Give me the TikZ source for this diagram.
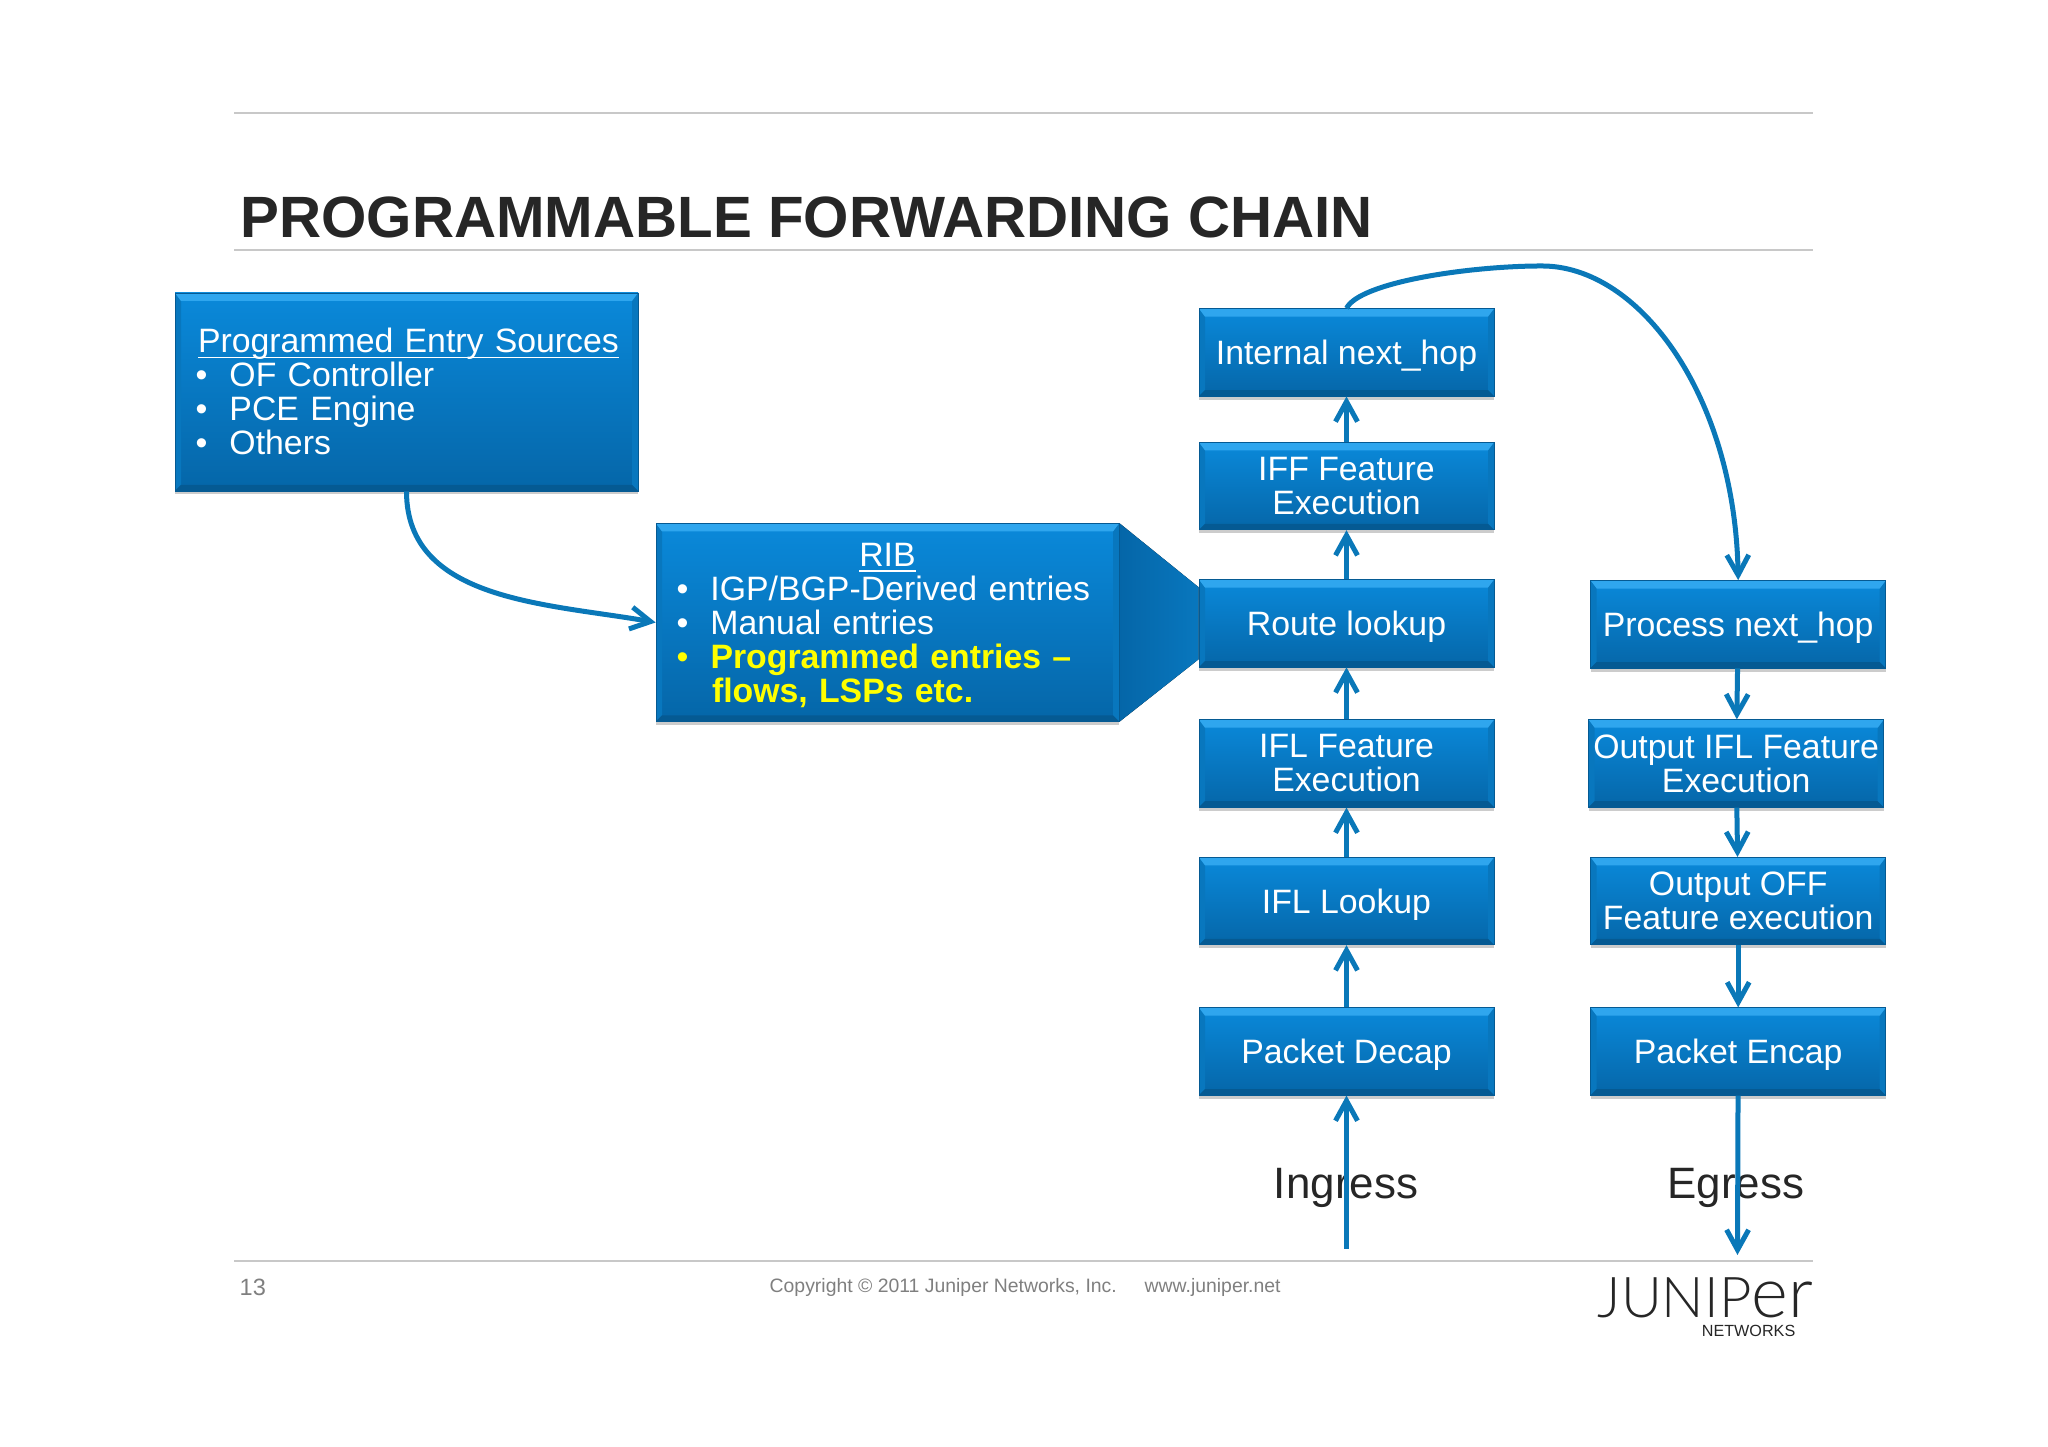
\documentclass[tikz,border=0pt]{standalone}
\usepackage{fontspec}
\setmainfont{Liberation Sans}
\newfontfamily\logofont{Lato Light}
\usetikzlibrary{positioning,arrows.meta,shadows,backgrounds}
\definecolor{boxtop}{HTML}{0A89DA}
\definecolor{boxbottom}{HTML}{0566A8}
\definecolor{bevellight}{HTML}{2FA6EE}
\definecolor{beveldark}{HTML}{055A93}
\definecolor{bevelside}{HTML}{0877BE}
\definecolor{wireblue}{HTML}{0A78B8}
\definecolor{inkdark}{HTML}{262626}
\definecolor{rulegrey}{HTML}{C8C8C8}
\definecolor{footgrey}{HTML}{7F7F7F}
\definecolor{hiyellow}{HTML}{FFFF00}
\newcommand{\bulletline}[1]{\makebox[0.315cm][l]{\hspace{-0.025cm}\textbullet}#1}
\tikzset{
  bevelbox/.style={top color=boxtop, bottom color=boxbottom, draw=beveldark, line width=0.2pt, text=white,
    font=\fontsize{9.62}{9.68}\selectfont, inner sep=0pt,
    drop shadow={shadow xshift=0cm, shadow yshift=-0.035cm, opacity=0.2, fill=black},
    path picture={
      \coordinate (nw) at (path picture bounding box.north west);
      \coordinate (ne) at (path picture bounding box.north east);
      \coordinate (sw) at (path picture bounding box.south west);
      \coordinate (se) at (path picture bounding box.south east);
      \fill[bevelside] (nw) -- ([xshift=0.06cm,yshift=-0.08cm]nw) -- ([xshift=0.06cm,yshift=0.06cm]sw) -- (sw) -- cycle;
      \fill[bevelside] (ne) -- ([xshift=-0.06cm,yshift=-0.08cm]ne) -- ([xshift=-0.06cm,yshift=0.06cm]se) -- (se) -- cycle;
      \fill[bevellight] (nw) -- (ne) -- ([xshift=-0.06cm,yshift=-0.08cm]ne) -- ([xshift=0.06cm,yshift=-0.08cm]nw) -- cycle;
      \fill[beveldark] (sw) -- (se) -- ([xshift=-0.06cm,yshift=0.06cm]se) -- ([xshift=0.06cm,yshift=0.06cm]sw) -- cycle;
    }},
  chainbox/.style={bevelbox, minimum width=2.95cm, minimum height=0.875cm, align=center},
  singlebox/.style={chainbox, text depth=0pt},
  listbox/.style={bevelbox, minimum width=4.63cm, minimum height=1.98cm, text width=4.17cm, align=left},
  wire/.style={wireblue, line width=0.05cm, -{Straight Barb[length=2mm,width=2.2mm]}},
  plainwire/.style={wireblue, line width=0.05cm},
  siderule/.style={rulegrey, line width=0.025cm},
  sidelabel/.style={text=inkdark, font=\fontsize{12.5}{12.5}\selectfont, inner sep=0pt},
  footnote/.style={text=footgrey, inner sep=0pt, anchor=base west}
}
\begin{document}
\begin{tikzpicture}
  \useasboundingbox (0,0) rectangle (20.48,14.47);
  % header and footer
  \coordinate (ruleA) at (2.34,13.34);
  \coordinate (ruleB) at (18.13,13.34);
  \coordinate (ruleC) at (2.34,11.97);
  \coordinate (ruleD) at (18.13,11.97);
  \coordinate (ruleE) at (2.34,1.86);
  \coordinate (ruleF) at (18.13,1.86);
  \draw[siderule] (ruleA) -- (ruleB);
  \draw[siderule] (ruleC) -- (ruleD);
  \draw[siderule] (ruleE) -- (ruleF);
  \node[anchor=base west, inner sep=0pt, text=inkdark, font=\fontsize{16.58}{16.58}\bfseries\selectfont] (title) at (2.40,12.09) {PROGRAMMABLE FORWARDING CHAIN};
  \node[footnote, font=\fontsize{6.7}{6.7}\selectfont] (pageno) at (2.39,1.515) {13};
  \node[footnote, font=\fontsize{5.52}{5.52}\selectfont] (copyright) at (7.69,1.545) {Copyright © 2011 Juniper Networks, Inc.};
  \node[footnote, font=\fontsize{5.52}{5.52}\selectfont] (website) at (11.44,1.545) {www.juniper.net};
  \node[anchor=base west, inner sep=0pt, text depth=0pt, text=inkdark, font=\logofont\fontsize{16}{16}\selectfont] (logo) at (15.97,1.29) {JUNIP{\fontsize{20}{20}\selectfont er}};
  \node[anchor=base east, inner sep=0pt, text=inkdark, font=\fontsize{4.6}{4.6}\selectfont] (logosub) at (17.96,1.105) {NETWORKS};
  % left column
  \node[singlebox] (decap) at (13.465,3.955) {Packet Decap};
  \node[singlebox, above=0.622cm of decap] (ifllookup) {IFL Lookup};
  \node[chainbox, above=0.494cm of ifllookup] (iflfeature) {IFL Feature\\Execution};
  \node[singlebox, above=0.52cm of iflfeature] (routelookup) {Route lookup};
  \node[chainbox, above=0.49cm of routelookup] (ifffeature) {IFF Feature\\Execution};
  \node[singlebox, above=0.455cm of ifffeature] (internalhop) {Internal next\_hop};
  % right column
  \node[singlebox, right=0.96cm of decap] (encap) {Packet Encap};
  \node[chainbox, above=0.622cm of encap] (outoff) {Output OFF\\Feature execution};
  \node[chainbox, above=0.494cm of outoff, xshift=-0.02cm] (outifl) {Output IFL Feature\\Execution};
  \node[singlebox, above=0.51cm of outifl, xshift=0.02cm] (processhop) {Process next\_hop};
  % lists
  \node[listbox] (sources) at (4.065,10.55) {\vphantom{P}\underline{\smash{Programmed Entry Sources}}\\
    \bulletline{OF Controller}\\\bulletline{PCE Engine}\\\bulletline{Others}};
  \node[listbox] (rib) at (8.875,8.245) {\makebox[\linewidth]{\underline{RIB}}\\
    \bulletline{IGP/BGP-Derived entries}\\\bulletline{Manual entries}\\
    \textcolor{hiyellow}{\bulletline{\bfseries Programmed entries --}}\\
    \textcolor{hiyellow}{\smash{\hspace{0.33cm}\bfseries flows, LSPs etc.}}};
  \begin{pgfonlayer}{background}
    \fill[left color=boxbottom, right color=bevelside] (rib.north east) -- ([yshift=0.36cm]routelookup.west) -- ([yshift=-0.36cm]routelookup.west) -- (rib.south east) -- cycle;
  \end{pgfonlayer}
  % io labels
  \node[sidelabel] (ingress) at (13.46,2.59) {Ingress};
  \node[sidelabel] (egress) at (17.36,2.59) {Egress};
  \coordinate (ingressend) at (13.465,1.98);
  \coordinate (egressend) at (17.375,1.92);
  \coordinate (hopbend) at (15.42,11.81);
  % connectors
  \draw[wire] (ingressend) -- (decap);
  \draw[wire] (decap) -- (ifllookup);
  \draw[wire] (ifllookup) -- (iflfeature);
  \draw[wire] (iflfeature) -- (routelookup);
  \draw[wire] (routelookup) -- (ifffeature);
  \draw[wire] (ifffeature) -- (internalhop);
  \draw[plainwire] (internalhop.north) .. controls (13.6,11.65) and (14.7,11.81) .. (hopbend);
  \draw[wire] (hopbend) .. controls (16.4,11.81) and (17.35,10.5) .. (processhop.north);
  \draw[wire] (processhop) -- (outifl);
  \draw[wire] (outifl) -- (outoff);
  \draw[wire] (outoff) -- (encap);
  \draw[wire] (encap) -- (egressend);
  \draw[wire] (sources.south) to[out=-90, in=170] (rib.west);
\end{tikzpicture}
\end{document}
